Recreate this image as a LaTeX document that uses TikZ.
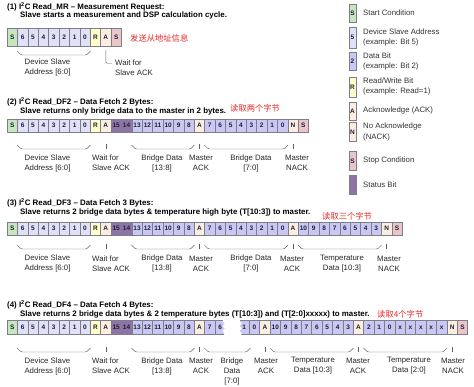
\documentclass[tikz,border=0pt]{standalone}
\usepackage{fontspec}
\setmainfont{Liberation Sans}
\newfontfamily\cjk{Noto Sans CJK SC}
\usetikzlibrary{positioning,calc}

\definecolor{startc}{RGB}{198,230,190}
\definecolor{addrc}{RGB}{224,224,247}
\definecolor{datac}{RGB}{200,200,242}
\definecolor{rwc}{RGB}{255,255,200}
\definecolor{ackc}{RGB}{252,238,222}
\definecolor{stopc}{RGB}{234,198,198}
\definecolor{statc}{RGB}{142,116,166}
\definecolor{edgec}{RGB}{125,125,140}
\definecolor{inkc}{RGB}{30,30,60}
\definecolor{linec}{RGB}{95,95,95}
\definecolor{cnred}{RGB}{232,40,40}

\tikzset{
  cell/.style={draw=edgec, line width=0.5pt, minimum width=10.4pt, minimum height=13pt,
    inner sep=0pt, text=inkc, font=\fontsize{6.5}{6.5}\selectfont\bfseries},
  key/.style={cell, minimum width=7pt},
  sbit/.style={fill=startc}, abit/.style={fill=addrc}, dbit/.style={fill=datac},
  rbit/.style={fill=rwc}, kbit/.style={fill=ackc}, pbit/.style={fill=stopc},
  tbit/.style={fill=statc},
  title/.style={anchor=west, inner sep=0pt, font=\fontsize{7.9}{9}\selectfont\bfseries},
  cn/.style={anchor=west, inner sep=0pt, text=cnred, font=\cjk\fontsize{8.3}{9}\selectfont},
  lbl/.style={inner sep=0pt, align=center, text=black!85, font=\fontsize{7.8}{10}\selectfont},
  keytxt/.style={anchor=west, align=left, inner sep=0pt, text=black!80,
    font=\fontsize{7.8}{10.5}\selectfont},
  brc/.style={draw=linec, line width=0.45pt, rounded corners=1.2pt},
}

\begin{document}
\begin{tikzpicture}[x=1pt, y=-1pt]
\useasboundingbox (0,0) rectangle (474,386);

% (1) measurement request
\node[title] (h1) at (7,6.5) {(1) I\textsuperscript{2}C Read\_MR -- Measurement Request:};
\node[title] (s1) at (20,15.5) {Slave starts a measurement and DSP calculation cycle.};
\foreach \s/\t [count=\i from 0] in {sbit/S,abit/6,abit/5,abit/4,abit/3,abit/2,abit/1,abit/0,rbit/R,kbit/A,pbit/S}
  \node[cell,\s,minimum height=18pt] (r1c\i) at (12.2+10.4*\i,37) {\t};
\node[cn] (z1) at (130,38.5) {发送从地址信息};
\draw[brc] (r1c1.west |- 0,51) -- ++(4,4) -- ($(r1c7.east |- 0,55)+(-4,0)$) -- ++(4,-4);
\draw[brc] (r1c9.south) ++(0,4) |- ++(6,13);
\node[lbl] (d1) at (47.5,67) {Device Slave\\{}Address [6:0]};
\node[lbl, anchor=west, align=left] (w1) at (115,68) {Wait for\\{}Slave ACK};

% (2) data fetch 2 bytes
\node[title] (h2) at (7,102) {(2) I\textsuperscript{2}C Read\_DF2 -- Data Fetch 2 Bytes:};
\node[title] (s2) at (20,111) {Slave returns only bridge data to the master in 2 bytes.};
\node[cn] (z2) at (230,108.5) {读取两个字节};
\foreach \s/\t [count=\i from 0] in {sbit/S,abit/6,abit/5,abit/4,abit/3,abit/2,abit/1,abit/0,rbit/R,kbit/A,
    tbit/15,tbit/14,dbit/13,dbit/12,dbit/11,dbit/10,dbit/9,dbit/8,kbit/A,
    dbit/7,dbit/6,dbit/5,dbit/4,dbit/3,dbit/2,dbit/1,dbit/0,kbit/N,pbit/S}
  \node[cell,\s] (r2c\i) at (12.2+10.4*\i,125.5) {\t};
\draw[brc] (r2c1.west |- 0,145) -- ++(4,4) -- ($(r2c7.east |- 0,149)+(-4,0)$) -- ++(4,-4);
\draw[brc] (r2c9 |- 0,144) -- ++(0,5);
\draw[brc] (r2c12.west |- 0,145) -- ++(4,4) -- ($(r2c17.east |- 0,149)+(-4,0)$) -- ++(4,-4);
\draw[brc] (r2c18 |- 0,144) -- ++(0,5);
\draw[brc] (r2c19.west |- 0,145) -- ++(4,4) -- ($(r2c26.east |- 0,149)+(-4,0)$) -- ++(4,-4);
\draw[brc] (r2c27 |- 0,144) -- ++(0,5);
\node[lbl] (d2) at (47.5,163) {Device Slave\\{}Address [6:0]};
\node[lbl, anchor=west, align=left] (w2) at (92,163) {Wait for\\{}Slave ACK};
\node[lbl] (b2a) at (162,163) {Bridge Data\\{}[13:8]};
\node[lbl] (m2a) at (201,163) {Master\\{}ACK};
\node[lbl] (b2b) at (251,163) {Bridge Data\\{}[7:0]};
\node[lbl] (m2b) at (297,163) {Master\\{}NACK};

% (3) data fetch 3 bytes
\node[title] (h3) at (7,202.5) {(3) I\textsuperscript{2}C Read\_DF3 -- Data Fetch 3 Bytes:};
\node[title] (s3) at (20,212) {Slave returns 2 bridge data bytes \& temperature high byte (T[10:3]) to master.};
\node[cn] (z3) at (322,216.5) {读取三个字节};
\foreach \s/\t [count=\i from 0] in {sbit/S,abit/6,abit/5,abit/4,abit/3,abit/2,abit/1,abit/0,rbit/R,kbit/A,
    tbit/15,tbit/14,dbit/13,dbit/12,dbit/11,dbit/10,dbit/9,dbit/8,kbit/A,
    dbit/7,dbit/6,dbit/5,dbit/4,dbit/3,dbit/2,dbit/1,dbit/0,kbit/A,
    dbit/10,dbit/9,dbit/8,dbit/7,dbit/6,dbit/5,dbit/4,dbit/3,kbit/N,pbit/S}
  \node[cell,\s] (r3c\i) at (12.2+10.4*\i,228.5) {\t};
\draw[brc] (r3c1.west |- 0,245) -- ++(4,4) -- ($(r3c7.east |- 0,249)+(-4,0)$) -- ++(4,-4);
\draw[brc] (r3c9 |- 0,244) -- ++(0,5);
\draw[brc] (r3c12.west |- 0,245) -- ++(4,4) -- ($(r3c17.east |- 0,249)+(-4,0)$) -- ++(4,-4);
\draw[brc] (r3c18 |- 0,244) -- ++(0,5);
\draw[brc] (r3c19.west |- 0,245) -- ++(4,4) -- ($(r3c26.east |- 0,249)+(-4,0)$) -- ++(4,-4);
\draw[brc] (r3c27 |- 0,244) -- ++(0,5);
\draw[brc] (r3c28.west |- 0,245) -- ++(4,4) -- ($(r3c35.east |- 0,249)+(-4,0)$) -- ++(4,-4);
\draw[brc] (r3c36 |- 0,244) -- ++(0,5);
\node[lbl] (d3) at (47.5,263.5) {Device Slave\\{}Address [6:0]};
\node[lbl, anchor=west, align=left] (w3) at (92,263.5) {Wait for\\{}Slave ACK};
\node[lbl] (b3a) at (162,263.5) {Bridge Data\\{}[13:8]};
\node[lbl] (m3a) at (201,263.5) {Master\\{}ACK};
\node[lbl] (b3b) at (251,263.5) {Bridge Data\\{}[7:0]};
\node[lbl] (m3b) at (292,263.5) {Master\\{}ACK};
\node[lbl] (t3) at (342,263.5) {Temperature\\{}Data [10:3]};
\node[lbl] (m3c) at (389,263.5) {Master\\{}NACK};

% (4) data fetch 4 bytes
\node[title] (h4) at (7,305) {(4) I\textsuperscript{2}C Read\_DF4 -- Data Fetch 4 Bytes:};
\node[title] (s4) at (20,314) {Slave returns 2 bridge data bytes \& 2 temperature bytes (T[10:3]) and (T[2:0]xxxxx) to master.};
\node[cn] (z4) at (377,314) {读取4个字节};
\foreach \s/\t [count=\i from 0] in {sbit/S,abit/6,abit/5,abit/4,abit/3,abit/2,abit/1,abit/0,rbit/R,kbit/A,
    tbit/15,tbit/14,dbit/13,dbit/12,dbit/11,dbit/10,dbit/9,dbit/8,kbit/A,dbit/7,dbit/6}
  \node[cell,\s,minimum height=14pt] (r4c\i) at (12.2+10.4*\i,327.5) {\t};
\foreach \s/\t [count=\i from 21] in {dbit/1,dbit/0,kbit/A,
    dbit/10,dbit/9,dbit/8,dbit/7,dbit/6,dbit/5,dbit/4,dbit/3,kbit/A,
    dbit/2,dbit/1,dbit/0,dbit/x,dbit/x,dbit/x,dbit/x,dbit/x,kbit/N,pbit/S}
  \node[cell,\s,minimum height=14pt] (r4c\i) at (244.1+10.4*\i-218.4,327.5) {\t};
\fill[white] (224,319) -- (222.5,321) -- (224.8,323.5) -- (222.6,326) -- (224.8,328.5)
  -- (222.5,331) -- (224.5,333.5) -- (223.5,336) -- (240.5,336) -- (241.8,333.5)
  -- (239.6,331) -- (241.8,328.5) -- (239.6,326) -- (241.8,323.5) -- (239.6,321) -- (241,319) -- cycle;
\draw[brc] (r4c1.west |- 0,348) -- ++(4,4) -- ($(r4c7.east |- 0,352)+(-4,0)$) -- ++(4,-4);
\draw[brc] (r4c9 |- 0,347) -- ++(0,5);
\draw[brc] (r4c12.west |- 0,348) -- ++(4,4) -- ($(r4c17.east |- 0,352)+(-4,0)$) -- ++(4,-4);
\draw[brc] (r4c18 |- 0,347) -- ++(0,5);
\draw[brc] (r4c19.west |- 0,348) -- ++(4,4) -- ($(r4c22.west |- 0,352)+(-2.5,0)$) -- ++(4,-4);
\draw[brc] (r4c23 |- 0,347) -- ++(0,5);
\draw[brc] (r4c24.west |- 0,348) -- ++(4,4) -- ($(r4c31.east |- 0,352)+(-4,0)$) -- ++(4,-4);
\draw[brc] (r4c32 |- 0,347) -- ++(0,5);
\draw[brc] (r4c33.west |- 0,348) -- ++(4,4) -- ($(r4c40.east |- 0,352)+(-4,0)$) -- ++(4,-4);
\draw[brc] (r4c41 |- 0,347) -- ++(0,5);
\node[lbl] (d4) at (47.5,366) {Device Slave\\{}Address [6:0]};
\node[lbl, anchor=west, align=left] (w4) at (92,366) {Wait for\\{}Slave ACK};
\node[lbl] (b4a) at (162,366) {Bridge Data\\{}[13:8]};
\node[lbl] (m4a) at (201,366) {Master\\{}ACK};
\node[lbl] (b4b) at (232,371) {Bridge\\{}Data\\{}[7:0]};
\node[lbl] (m4b) at (266,366) {Master\\{}ACK};
\node[lbl] (t4a) at (313,366) {Temperature\\{}Data [10:3]};
\node[lbl] (m4c) at (358,366) {Master\\{}ACK};
\node[lbl] (t4b) at (409,366) {Temperature\\{}Data [2:0]};
\node[lbl] (m4d) at (453,366) {Master\\{}NACK};

% legend
\node[key,sbit,minimum height=18pt] (k1) at (352.5,13) {S};
\node[keytxt] (k1t) at (363,13) {Start Condition};
\node[key,abit,minimum height=21pt] (k2) at (352.5,37.5) {5};
\node[keytxt] (k2t) at (363,37.5) {Device Slave Address\\{}(example: Bit 5)};
\node[key,dbit,minimum height=18pt] (k3) at (352.5,61) {2};
\node[keytxt] (k3t) at (363,61.5) {Data Bit\\{}(example: Bit 2)};
\node[key,rbit,minimum height=20pt] (k4) at (352.5,87) {R};
\node[keytxt] (k4t) at (363,86.5) {Read/Write Bit\\{}(example: Read=1)};
\node[key,kbit,minimum height=18pt] (k5) at (352.5,111) {A};
\node[keytxt] (k5t) at (363,110.5) {Acknowledge (ACK)};
\node[key,kbit,minimum height=19pt] (k6) at (352.5,132) {N};
\node[keytxt] (k6t) at (363,132) {No Acknowledge\\{}(NACK)};
\node[key,pbit,minimum height=19pt] (k7) at (352.5,161) {S};
\node[keytxt] (k7t) at (363,160.5) {Stop Condition};
\node[key,tbit,minimum height=19pt] (k8) at (352.5,185) {};
\node[keytxt] (k8t) at (363,185) {Status Bit};
\end{tikzpicture}
\end{document}
